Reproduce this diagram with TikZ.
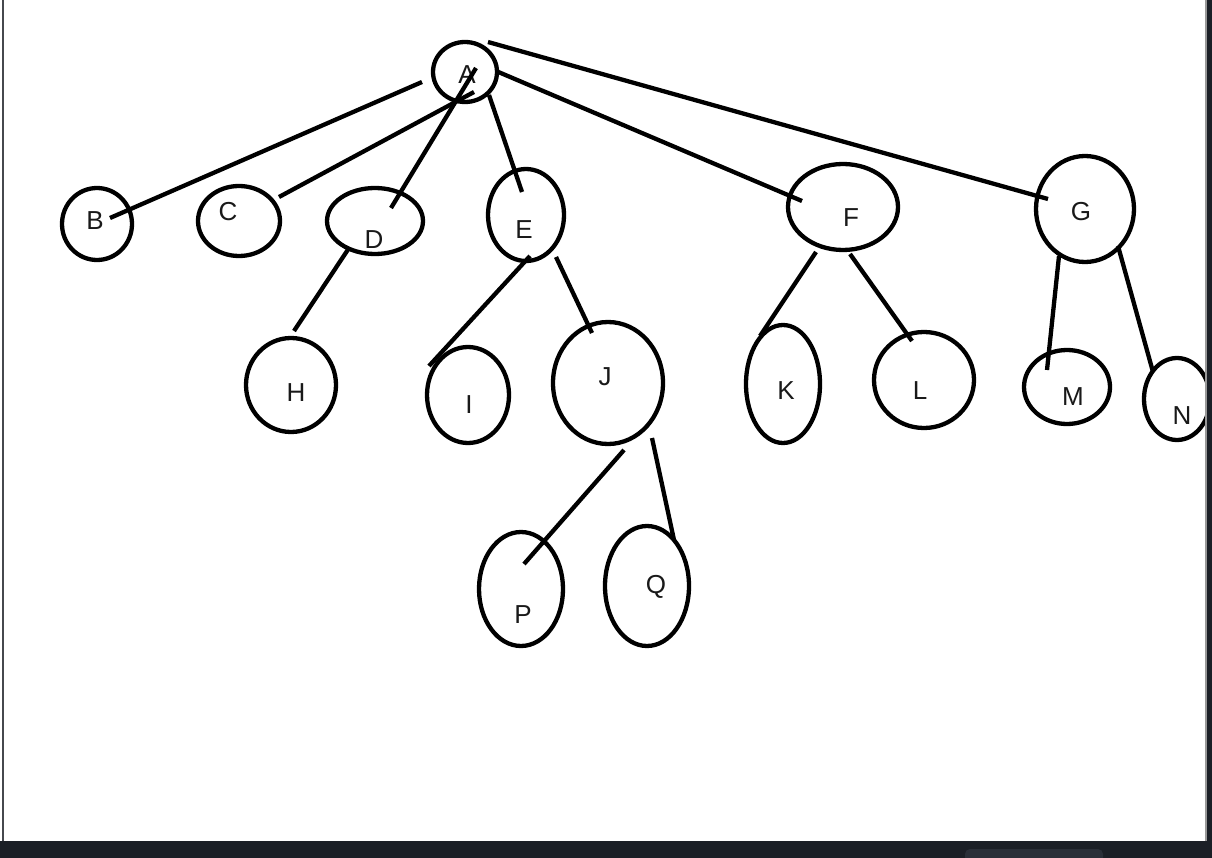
\documentclass[tikz,border=0pt]{standalone}
\usepackage{fontspec}
\setmainfont{Liberation Sans}
\usetikzlibrary{shapes.geometric}
\definecolor{framebar}{RGB}{27,31,38}
\definecolor{framebtn}{RGB}{42,47,56}
\definecolor{frameline}{RGB}{70,72,78}
\begin{document}
\begin{tikzpicture}[x=1pt,y=-1pt,
  circ/.style={draw=black,line width=4.3pt,ellipse,inner sep=0pt},
  lab/.style={font=\fontsize{26}{30}\selectfont,inner sep=0pt,text=black!90},
  edge/.style={draw=black,line width=4.3pt}]
\useasboundingbox (0,0) rectangle (1212,858);
\fill[white] (0,0) rectangle (1212,858);
% ellipses
\node[circ,minimum width=64pt,minimum height=60pt] (A) at (465,72) {};
\node[circ,minimum width=70pt,minimum height=72pt] (B) at (97,224) {};
\node[circ,minimum width=82pt,minimum height=70pt] (C) at (239,221) {};
\node[circ,minimum width=96pt,minimum height=66pt] (D) at (375,221) {};
\node[circ,minimum width=76pt,minimum height=92pt] (E) at (526,215) {};
\node[circ,minimum width=110pt,minimum height=86pt] (F) at (843,207) {};
\node[circ,minimum width=98pt,minimum height=106pt] (G) at (1085,209) {};
\node[circ,minimum width=90pt,minimum height=94pt] (H) at (291,385) {};
\node[circ,minimum width=82pt,minimum height=96pt] (I) at (468,395) {};
\node[circ,minimum width=110pt,minimum height=122pt] (J) at (608,383) {};
\node[circ,minimum width=74pt,minimum height=118pt] (K) at (783,384) {};
\node[circ,minimum width=100pt,minimum height=96pt] (L) at (924,380) {};
\node[circ,minimum width=86pt,minimum height=74pt] (M) at (1067,387) {};
\node[circ,minimum width=66pt,minimum height=82pt] (N) at (1177,399) {};
\node[circ,minimum width=84pt,minimum height=114pt] (P) at (521,589) {};
\node[circ,minimum width=84pt,minimum height=120pt] (Q) at (647,586) {};
% labels
\node[lab] (tA) at (467,75) {A};
\node[lab] (tB) at (95,221) {B};
\node[lab] (tC) at (228,212) {C};
\node[lab] (tD) at (374,240) {D};
\node[lab] (tE) at (524,230) {E};
\node[lab] (tF) at (851,218) {F};
\node[lab] (tG) at (1081,212) {G};
\node[lab] (tH) at (296,393) {H};
\node[lab] (tI) at (469,405) {I};
\node[lab] (tJ) at (605,377) {J};
\node[lab] (tK) at (786,391) {K};
\node[lab] (tL) at (920,391) {L};
\node[lab] (tM) at (1073,397) {M};
\node[lab] (tN) at (1182,416) {N};
\node[lab] (tP) at (523,615) {P};
\node[lab] (tQ) at (656,587) {Q};
% connector end points (hand-drawn, not touching exactly)
\coordinate (AB1) at (422,82);   \coordinate (AB2) at (110,218);
\coordinate (AC1) at (474,92);   \coordinate (AC2) at (279,197);
\coordinate (AD1) at (476,68);   \coordinate (AD2) at (391,208);
\coordinate (AE1) at (489,95);   \coordinate (AE2) at (522,192);
\coordinate (AF1) at (496,71);   \coordinate (AF2) at (802,201);
\coordinate (AG1) at (488,42);   \coordinate (AG2) at (1048,199);
\coordinate (DH1) at (349,248);  \coordinate (DH2) at (294,331);
\coordinate (EI1) at (530,256);  \coordinate (EI2) at (429,366);
\coordinate (EJ1) at (556,257);  \coordinate (EJ2) at (592,333);
\coordinate (FK1) at (816,252);  \coordinate (FK2) at (760,336);
\coordinate (FL1) at (850,254);  \coordinate (FL2) at (912,341);
\coordinate (GM1) at (1059,256); \coordinate (GM2) at (1047,370);
\coordinate (GN1) at (1118,246); \coordinate (GN2) at (1153,372);
\coordinate (JP1) at (624,450);  \coordinate (JP2) at (524,564);
\coordinate (JQ1) at (652,438);  \coordinate (JQ2) at (674,540);
\draw[edge] (AB1) -- (AB2);
\draw[edge] (AC1) -- (AC2);
\draw[edge] (AD1) -- (AD2);
\draw[edge] (AE1) -- (AE2);
\draw[edge] (AF1) -- (AF2);
\draw[edge] (AG1) -- (AG2);
\draw[edge] (DH1) -- (DH2);
\draw[edge] (EI1) -- (EI2);
\draw[edge] (EJ1) -- (EJ2);
\draw[edge] (FK1) -- (FK2);
\draw[edge] (FL1) -- (FL2);
\draw[edge] (GM1) -- (GM2);
\draw[edge] (GN1) -- (GN2);
\draw[edge] (JP1) -- (JP2);
\draw[edge] (JQ1) -- (JQ2);
% window frame
\fill[white] (1205,0) rectangle (1212,858);
\fill[black!40] (1205,0) rectangle (1207,841);
\fill[framebar] (1207,0) rectangle (1212,858);
\fill[frameline] (2,0) rectangle (3.5,841);
\fill[framebar] (0,841) rectangle (1212,858);
\fill[framebtn,rounded corners=5pt] (965,849) rectangle (1103,864);
\end{tikzpicture}
\end{document}
